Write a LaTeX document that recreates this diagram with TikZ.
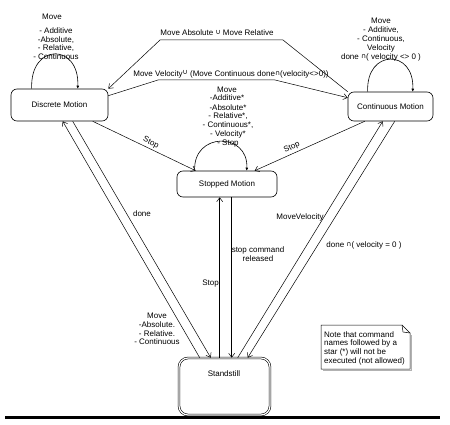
\documentclass[tikz,border=0pt]{standalone}
\usepackage{fontspec}
\setmainfont{Liberation Sans}
\newfontfamily\symfont{DejaVu Sans}
\usetikzlibrary{arrows.meta}
\newcommand{\myunion}{\raisebox{1.2pt}{\symfont\fontsize{7}{7}\selectfont ∪}}
\newcommand{\myinter}{\raisebox{1pt}{\symfont\fontsize{7}{7}\selectfont ∩}}
\begin{document}
\begin{tikzpicture}[x=1pt,y=-1pt,
  font=\fontsize{8}{8.7}\selectfont,
  state/.style={draw, rounded corners=6pt, line width=0.6pt, inner sep=0pt},
  lbl/.style={inner sep=0pt, align=center},
  conn/.style={line width=0.5pt, -{Straight Barb[length=4pt,width=6pt]}},
  selfloop/.style={line width=0.6pt, -{Latex[length=3pt,width=3pt]}}]
\useasboundingbox (0,0) rectangle (450,425);

% states
\node[state, minimum width=97pt, minimum height=32pt] (dm) at (59.5,105) {Discrete Motion};
\node[state, minimum width=85pt, minimum height=29pt] (cm) at (390.5,106.5) {Continuous Motion};
\node[state, minimum width=100pt, minimum height=26pt] (sm) at (227,184) {Stopped Motion};
\node[state, double, double distance=1.2pt, rounded corners=9pt, minimum width=91pt, minimum height=57pt] (ss) at (224.5,386.5) {};
\node[lbl] (sst) at (224,374) {Standstill};

% self loops
\draw[selfloop] ([xshift=21pt]dm.north west) .. controls +(-2,-46) and +(2,-46) .. ([xshift=67pt]dm.north west);
\draw[selfloop] ([xshift=20pt]cm.north west) .. controls +(-2,-43) and +(2,-43) .. ([xshift=65pt]cm.north west);
\draw[selfloop] ([xshift=18pt]sm.north west) .. controls +(-2,-39) and +(2,-39) .. ([xshift=70pt]sm.north west);

% loop labels
\node[lbl] (dmove) at (52,17) {Move};
\node[lbl, font=\fontsize{8}{8.4}\selectfont] (dlist) at (56,43.6) {- Additive\\-Absolute,\\- Relative,\\- Continuous};
\node[lbl, font=\fontsize{8}{9}\selectfont] (clist) at (381,40) {Move\\- Additive,\\- Continuous,\\Velocity\\done \myinter( velocity <> 0 )};
\node[lbl, font=\fontsize{8}{8}\selectfont] (smove) at (227,94) {Move\\-Additive*};
\node[lbl, font=\fontsize{8}{8.75}\selectfont] (slist) at (228,125.5) {-Absolute*\\- Relative*,\\- Continuous*,\\- Velocity*\\- Stop};

% top connectors
\coordinate (a1) at (283,40);
\coordinate (a2) at (160,40);
\draw[conn] (cm.north west) -- (a1) -- (a2) -- (dm.north east);
\node[lbl] (l1) at (217,33) {Move Absolute \myunion{} Move Relative};

\coordinate (b1) at (158,80);
\coordinate (b2) at (275,80);
\draw[conn] ([yshift=-7pt]dm.north east) -- (b1) -- (b2) -- ([yshift=-6pt]cm.north west);
\node[lbl] (l2) at (231,74) {Move Velocity\myunion{} (Move Continuous done\myinter(velocity<>0))};

% stop connectors
\draw[conn] ([xshift=82pt]dm.south west) -- node[lbl, sloped, above=2pt, pos=0.54] (l3) {Stop} ([xshift=19pt]sm.north west);
\draw[conn] ([xshift=17pt]cm.south west) -- node[lbl, sloped, above=2pt, pos=0.64] (l4) {Stop} ([xshift=78pt]sm.north west);

% vertical connectors
\coordinate (v1b) at ([xshift=41pt]ss.north west);
\coordinate (v2b) at ([xshift=53pt]ss.north west);
\draw[conn] (v1b) -- (v1b |- sm.south);
\draw[conn] (v2b |- sm.south) -- (v2b);
\node[lbl, anchor=east] (l5) at (219,284) {Stop};
\node[lbl] (l6) at (258,254) {stop command\\released};

% diagonal connectors
\draw[conn] ([xshift=21pt]ss.north west) -- ([xshift=52pt]dm.south west);
\draw[conn] ([xshift=62pt]dm.south west) -- ([xshift=32pt]ss.north west);
\draw[conn] ([xshift=59pt]ss.north west) -- ([xshift=35pt]cm.south west);
\draw[conn] ([xshift=47pt]cm.south west) -- ([xshift=69pt]ss.north west);
\node[lbl] (l7) at (142,214) {done};
\node[lbl] (l8) at (157,329) {Move\\-Absolute.\\- Relative.\\- Continuous};
\node[lbl] (l9) at (300,217) {MoveVelocity};
\node[lbl] (l10) at (364,245) {done \myinter( velocity = 0 )};

% note
\draw[gray!60, line width=1pt] (411.5,335) -- (411.5,370.5) -- (323,370.5);
\draw[line width=0.5pt, fill=white] (321,325) -- (402,325) -- (410,333) -- (410,369) -- (321,369) -- cycle;
\draw[line width=0.5pt] (402,325) -- (403,332) -- (410,333);
\node[lbl, align=left, anchor=west] (nt) at (324,348) {Note that command\\names followed by a\\star (*) will not be\\executed (not allowed)};

% ground line
\draw[line width=2.5pt] (5,417.5) -- (440,417.5);
\end{tikzpicture}
\end{document}
